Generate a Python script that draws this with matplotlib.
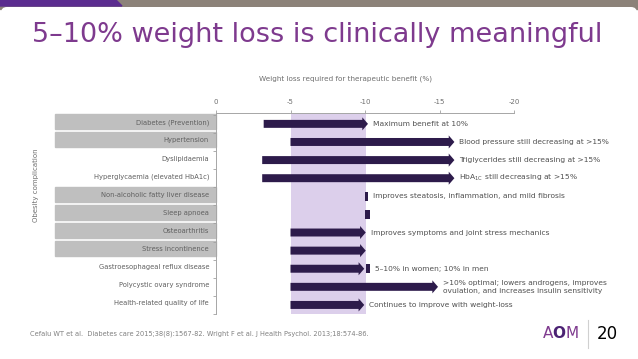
import numpy as np
import matplotlib.pyplot as plt
from matplotlib.patches import Rectangle, Polygon, FancyBboxPatch
from matplotlib import transforms

complications = ["Diabetes (Prevention)", "Hypertension", "Dyslipidaemia",
                 "Hyperglycaemia (elevated HbA1c)", "Non-alcoholic fatty liver disease",
                 "Sleep apnoea", "Osteoarthritis", "Stress incontinence",
                 "Gastroesophageal reflux disease", "Polycystic ovary syndrome",
                 "Health-related quality of life"]
boxed = [True, True, False, False, True, True, True, True, False, False, False]
# weight loss (%) where benefit starts / arrow ends
arrow_start = [3.2, 5, 3.1, 3.1, np.nan, np.nan, 5, 5, 5, 5, 5]
arrow_end = [10.2, 16, 16, 16, np.nan, np.nan, 10.05, 10.05, 9.95, 14.9, 9.95]
# short blocks (no arrow)
block_start = [np.nan, np.nan, np.nan, np.nan, 10, 10, np.nan, np.nan, 10.05, np.nan, np.nan]
block_end = [np.nan, np.nan, np.nan, np.nan, 10.2, 10.35, np.nan, np.nan, 10.35, np.nan, np.nan]
notes = ["Maximum benefit at 10%",
         "Blood pressure still decreasing at >15%",
         "Triglycerides still decreasing at >15%",
         r"HbA$_{\mathregular{1C}}$ still decreasing at >15%",
         "Improves steatosis, inflammation, and mild fibrosis",
         "",
         "Improves symptoms and joint stress mechanics",
         "",
         "5–10% in women; 10% in men",
         ">10% optimal; lowers androgens, improves\novulation, and increases insulin sensitivity",
         "Continues to improve with weight-loss"]
ticks = [0, -5, -10, -15, -20]

purple = "#7E3A8E"
dark = "#2D1B4B"
shade = "#DCCFEB"
grey_txt = "#6F6F6F"

fig = plt.figure(figsize=(6.38, 3.59), dpi=100)

# slide background in pixel coordinates
bg = fig.add_axes([0, 0, 1, 1], zorder=-5)
bg.set_xlim(0, 638)
bg.set_ylim(359, 0)
bg.axis("off")
bg.add_patch(Rectangle((0, 0), 638, 9, color="#8C8279"))
bg.add_patch(Polygon([(0, 0), (116, 0), (122, 6), (0, 6)], color="#5B2C8F"))
bg.add_patch(FancyBboxPatch((1, 7), 636, 360, boxstyle="round,pad=0,rounding_size=6",
                            fc="white", ec="none"))
bg.plot([588, 588], [320, 348], color="#D0D0D0", lw=0.8)

fig.text(32 / 638, 1 - 35 / 359, "5–10% weight loss is clinically meaningful",
         fontsize=19.5, color=purple, va="center")
fig.text(30 / 638, 1 - 334 / 359,
         "Cefalu WT et al.  Diabetes care 2015;38(8):1567-82. Wright F et al. J Health Psychol. 2013;18:574-86.",
         fontsize=4.75, color="#808080", va="center")
fig.text(543 / 638, 1 - 334 / 359, "A", fontsize=11, color=purple, va="center")
fig.text(552.5 / 638, 1 - 334 / 359, "O", fontsize=11, color="#4B2273", va="center", weight="bold")
fig.text(565.5 / 638, 1 - 334 / 359, "M", fontsize=11, color=purple, va="center")
fig.text(597 / 638, 1 - 334 / 359, "20", fontsize=12, color="black", va="center")

ax = fig.add_axes([216 / 638, 1 - 314 / 359, 298 / 638, 201 / 359])
ax.set_facecolor("none")
n = len(complications)
ax.set_xlim(0, -20)
ax.set_ylim(n - 0.5, -0.6)

ax.axvspan(-5, -10.05, color=shade, lw=0, zorder=0)

for i in range(n):
    if not np.isnan(arrow_start[i]):
        s, e = -arrow_start[i], -arrow_end[i]
        ax.arrow(s, i, e - s, 0, width=0.44, head_width=0.72, head_length=0.38,
                 length_includes_head=True, color=dark, lw=0, zorder=3)
    if not np.isnan(block_start[i]):
        ax.barh(i, -(block_end[i] - block_start[i]), left=-block_start[i],
                height=0.5, color=dark, zorder=3)
    end = np.nanmax([arrow_end[i], block_end[i]])
    if notes[i]:
        ax.annotate(notes[i], (-end, i), xytext=(3.5, 0), textcoords="offset points",
                    fontsize=5.4, color="#505050", va="center", ha="left",
                    annotation_clip=False, linespacing=1.3)

# grey label boxes
trans = transforms.blended_transform_factory(fig.transFigure, ax.transData)
for i in range(n):
    if boxed[i]:
        ax.add_patch(Rectangle((55 / 638, i - 0.53), (215.5 - 55) / 638, 0.83,
                               transform=trans, color="#BFBFBF", clip_on=False, zorder=0))

ax.set_yticks(range(n))
ax.set_yticklabels(complications, fontsize=4.9, color="#606060")
ax.set_yticks(np.arange(-0.5, n, 1), minor=True)
ax.tick_params(axis="y", which="major", length=0, pad=5)
ax.tick_params(axis="y", which="minor", length=2.5, color="#A0A0A0", width=0.6)
shift = transforms.ScaledTranslation(0, 2 / 100, fig.dpi_scale_trans)
for lab in ax.get_yticklabels():
    lab.set_transform(lab.get_transform() + shift)

ax.xaxis.tick_top()
ax.set_xticks(ticks)
ax.set_xticklabels([str(t) for t in ticks], fontsize=5, color=grey_txt)
ax.tick_params(axis="x", length=2.5, color="#A0A0A0", width=0.6, pad=3)
ax.xaxis.set_label_position("top")
ax.set_xlabel("Weight loss required for therapeutic benefit (%)", fontsize=5.2,
              color=grey_txt)
ax.xaxis.set_label_coords(0.433, 1 + 33 / 201)

for side in ["right", "bottom"]:
    ax.spines[side].set_visible(False)
for side in ["top", "left"]:
    ax.spines[side].set_color("#A6A6A6")
    ax.spines[side].set_linewidth(0.7)

fig.text(36 / 638, 1 - 185 / 359, "Obesity complication", rotation=90,
         fontsize=5, color=grey_txt, va="center", ha="center")

fig.savefig("out.png", dpi=100)
plt.close()
